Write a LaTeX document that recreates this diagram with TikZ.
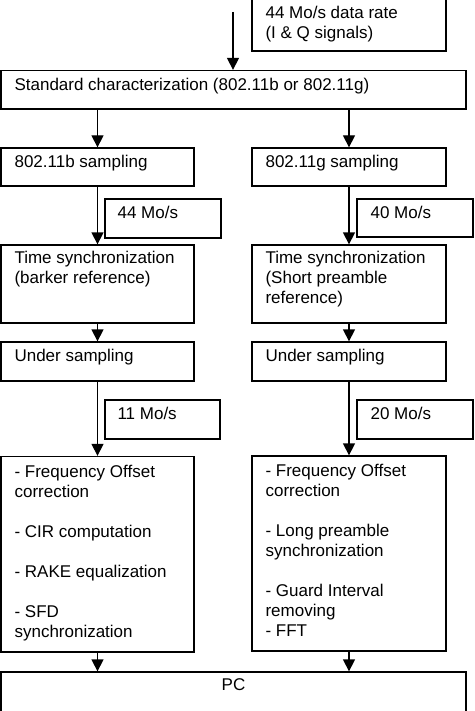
\documentclass[tikz,border=0pt]{standalone}
\usepackage{fontspec}
\setmainfont{Liberation Sans}
\usetikzlibrary{arrows.meta}
\tikzset{
  box/.style={draw, line width=1.3pt, inner sep=0pt},
  txt/.style={anchor=north west, align=left, inner sep=0pt, xshift=14pt,
    yshift=-8pt, font=\fontsize{17}{20}\selectfont},
  arr/.style={line width=1.3pt, -{Triangle[width=12pt,length=12pt]}}
}
\begin{document}
\begin{tikzpicture}[x=1pt, y=-1pt]
  \useasboundingbox (0,0) rectangle (474,711);

  % input and standard
  \node[box, minimum width=194, minimum height=71, label={[txt, yshift=-19pt]north
  west:{44 Mo/s data rate\\(I \& Q signals)}}] (rate) at (349,15.5) {};
  \coordinate (in) at (233,12);
  \node[box, minimum width=465, minimum height=38.5, label={[txt]north
  west:{Standard characterization (802.11b or 802.11g)}}] (std) at (233.5,89.75) {};

  % 802.11b column (left)
  \node[box, minimum width=193, minimum height=38, label={[txt]north
  west:{802.11b sampling}}] (bsamp) at (97.5,167) {};
  \node[box, minimum width=116, minimum height=39, label={[txt, xshift=-1pt]north
  west:{44 Mo/s}}] (brate) at (163,218.5) {};
  \node[box, minimum width=193, minimum height=78, label={[txt, yshift=1pt]north
  west:{Time synchronization\\(barker reference)}}] (bsync) at (97.5,284) {};
  \node[box, minimum width=193, minimum height=39, label={[txt]north
  west:{Under sampling}}] (bunder) at (97.5,361.5) {};
  \node[box, minimum width=115, minimum height=39, label={[txt, xshift=-1pt]north
  west:{11 Mo/s}}] (bdown) at (162.5,419.5) {};
  \node[box, minimum width=193, minimum height=195.5, label={[txt, yshift=-1pt]north
  west:{- Frequency Offset\\correction\\[20pt]- CIR computation\\[20pt]- RAKE
  equalization\\[20pt]- SFD\\synchronization}}] (bproc) at (97.5,554.25) {};

  % 802.11g column (right)
  \node[box, minimum width=194, minimum height=38, label={[txt]north
  west:{802.11g sampling}}] (gsamp) at (349,167) {};
  \node[box, minimum width=116, minimum height=38, label={[txt]north
  west:{40 Mo/s}}] (grate) at (415,218) {};
  \node[box, minimum width=194, minimum height=78, label={[txt, yshift=1pt]north
  west:{Time synchronization\\(Short preamble\\reference)}}] (gsync) at (349,284) {};
  \node[box, minimum width=194, minimum height=39, label={[txt]north
  west:{Under sampling}}] (gunder) at (349,361.5) {};
  \node[box, minimum width=116, minimum height=39, label={[txt]north
  west:{20 Mo/s}}] (gdown) at (415,419.5) {};
  \node[box, minimum width=194, minimum height=195, label={[txt, yshift=-1pt]north
  west:{- Frequency Offset\\correction\\[20pt]- Long preamble\\synchronization\\[20pt]-
  Guard Interval\\removing\\- FFT}}] (gproc) at (349,553.5) {};

  % PC
  \node[box, minimum width=465, minimum height=58, label={[txt, anchor=north,
  xshift=-14pt, yshift=1pt]north:{PC}}] (pc) at (233.5,701) {};

  % connectors
  \draw[arr] (in) -- (in |- std.north);
  \foreach \col in {b,g} {
    \draw[arr] (\col samp |- std.south) -- (\col samp.north);
    \draw[arr] (\col samp.south) -- (\col sync.north);
    \draw[arr] (\col sync.south) -- (\col under.north);
    \draw[arr] (\col under.south) -- (\col proc.north);
    \draw[arr] (\col proc.south) -- (\col proc |- pc.north);
  }
\end{tikzpicture}
\end{document}
